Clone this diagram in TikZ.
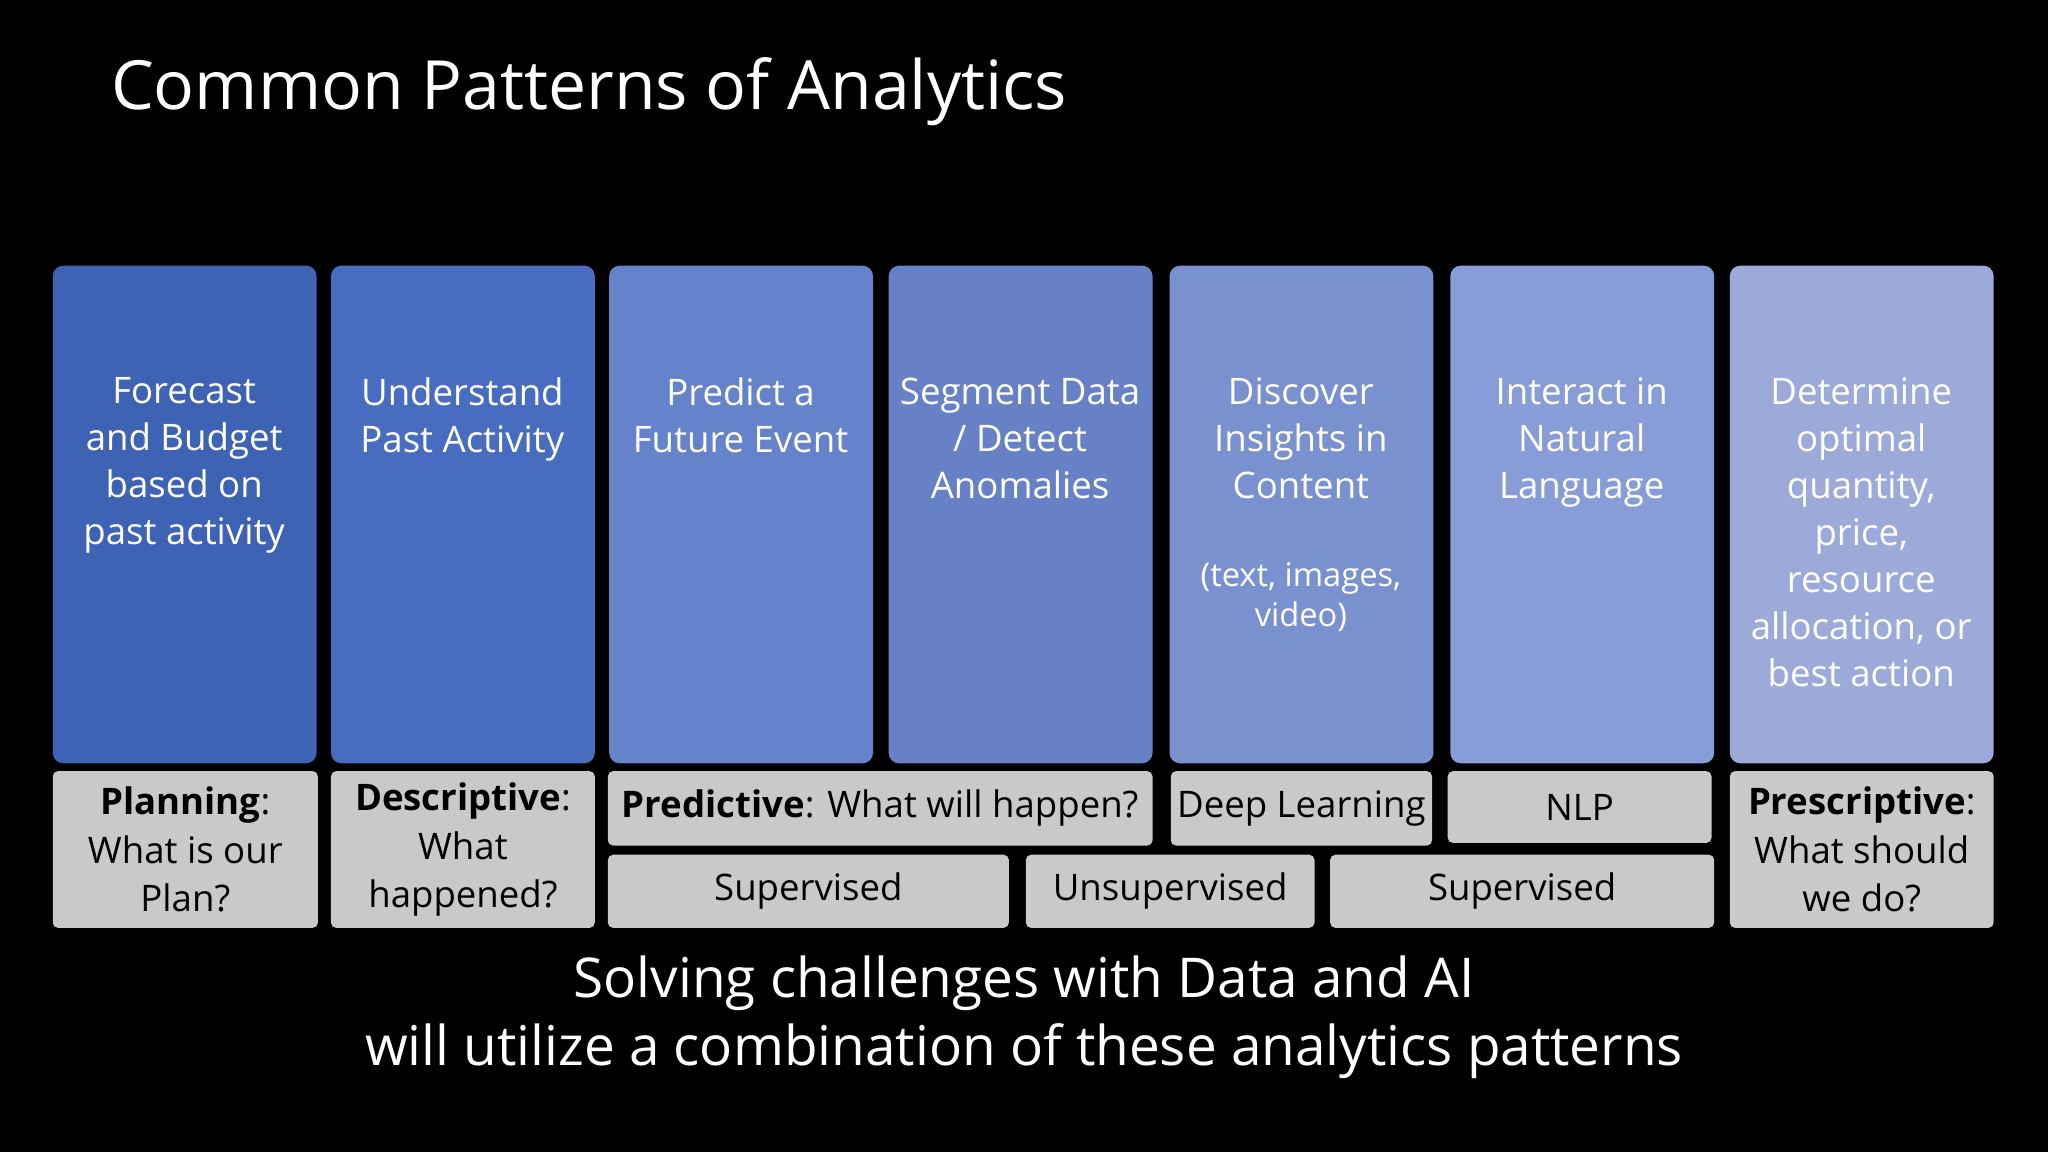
\documentclass[tikz,border=0pt]{standalone}
\usepackage{fontspec}
\setmainfont{Open Sans}
\begin{document}
\begin{tikzpicture}[x=0.5pt,y=-0.5pt,
  box/.style={rounded corners=4pt,draw=none,anchor=north west,inner sep=0},
  grey/.style={box,fill=boxgrey,rounded corners=2pt},
  btxt/.style={text=white,align=center,font=\fontsize{14}{18}\selectfont,anchor=north},
  gtxt/.style={text=black,align=center,font=\fontsize{14}{18.5}\selectfont}]
\definecolor{boxgrey}{HTML}{C9C8CB}
\definecolor{c1}{HTML}{3E62B4}
\definecolor{c2}{HTML}{486DC0}
\definecolor{c3}{HTML}{6583CA}
\definecolor{c4}{HTML}{6681C5}
\definecolor{c5}{HTML}{7991CF}
\definecolor{c6}{HTML}{889CD8}
\definecolor{c7}{HTML}{9BAAD8}
\fill[black] (0,0) rectangle (1568,882);
\useasboundingbox (0,0) rectangle (1568,882);
\node[anchor=west,text=white,font=\fontsize{26}{30}\selectfont] (title) at (78,70) {Common Patterns of Analytics};
\foreach \i/\x/\c in {1/40/c1,2/253/c2,3/466/c3,4/680/c4,5/895/c5,6/1110/c6,7/1324/c7}{
  \node[box,fill=\c,minimum width=101pt,minimum height=190.5pt] (b\i) at (\x,203) {};
}
\node[btxt] (t1) at (141,282) {Forecast\\and Budget\\based on\\past activity};
\node[btxt] (t2) at (354,282) {Understand\\Past Activity};
\node[btxt] (t3) at (567,282) {Predict a\\Future Event};
\node[btxt] (t4) at (781,282) {Segment Data\\/ Detect\\Anomalies};
\node[btxt] (t5) at (996,282) {Discover\\Insights in\\Content};
\node[btxt,font=\fontsize{12.5}{15}\selectfont] (t5b) at (996,424) {(text, images,\\video)};
\node[btxt] (t6) at (1211,282) {Interact in\\Natural\\Language};
\node[btxt] (t7) at (1425,282) {Determine\\optimal\\quantity,\\price,\\resource\\allocation, or\\best action};
% grey boxes
\node[grey,minimum width=101.5pt,minimum height=60pt] (g1) at (40,590) {};
\node[gtxt] at (g1.center) {\textbf{Planning}:\\What is our\\Plan?};
\node[grey,minimum width=101pt,minimum height=60pt] (g2) at (253,590) {};
\node[gtxt] at (g2.center) {\textbf{Descriptive}:\\What\\happened?};
\node[grey,minimum width=208.5pt,minimum height=28.5pt] (g3) at (465,590) {};
\node[gtxt] at (g3.center) {\textbf{Predictive}: What will happen?};
\node[grey,minimum width=100pt,minimum height=28.5pt] (g4) at (896,590) {};
\node[gtxt] at (g4.center) {Deep Learning};
\node[grey,minimum width=101pt,minimum height=27.5pt] (g5) at (1108,590) {};
\node[gtxt] at (g5.center) {NLP};
\node[grey,minimum width=101pt,minimum height=60pt] (g6) at (1324,590) {};
\node[gtxt] at (g6.center) {\textbf{Prescriptive}:\\What should\\we do?};
\node[grey,minimum width=153.5pt,minimum height=28pt] (s1) at (465,654) {};
\node[gtxt] at (s1.center) {Supervised};
\node[grey,minimum width=110.5pt,minimum height=28pt] (s2) at (785,654) {};
\node[gtxt] at (s2.center) {Unsupervised};
\node[grey,minimum width=147pt,minimum height=28pt] (s3) at (1018,654) {};
\node[gtxt] at (s3.center) {Supervised};
\node[text=white,align=center,font=\fontsize{21}{26}\selectfont] (foot) at (784,779) {Solving challenges with Data and AI\\will utilize a combination of these analytics patterns};
\end{tikzpicture}
\end{document}
